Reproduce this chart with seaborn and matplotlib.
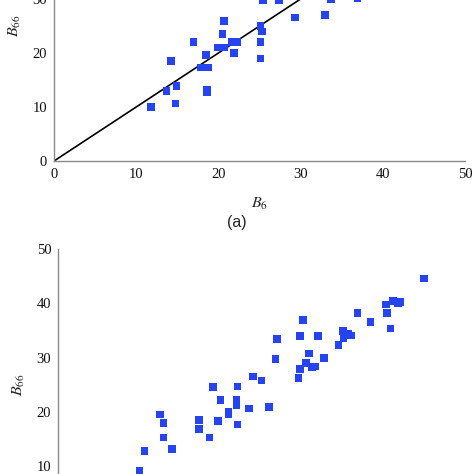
import numpy as np
import pandas as pd
import seaborn as sns
import matplotlib.pyplot as plt

sns.set_style("white")
plt.rcParams['font.family'] = ['Liberation Serif', 'DejaVu Serif']
plt.rcParams['mathtext.fontset'] = 'stix'

# panel (a): B6 vs B66
a_b6 = [11.8, 13.7, 14.2, 14.9, 14.8, 16.95, 17.85, 18.5, 18.8, 18.65, 18.65,
        19.9, 20.3, 20.5, 20.7, 20.7, 21.6, 21.9, 22.3, 25.1, 25.1, 25.1, 25.3,
        25.4, 27.4, 29.3, 33.0, 33.7, 36.9]
a_b66 = [10.0, 13.0, 18.5, 13.9, 10.65, 22.0, 17.3, 19.6, 17.3, 13.1, 12.7,
         21.0, 21.0, 23.5, 25.9, 21.0, 22.0, 20.0, 22.0, 22.0, 18.95, 25.0, 24.0,
         29.7, 29.8, 26.6, 27.0, 29.9, 30.1]

# panel (b)
b_b6 = [9.9, 10.5, 12.4, 12.8, 12.8, 13.8, 17.1, 17.1, 18.4, 18.8, 19.4, 19.75,
        20.7, 20.7, 21.8, 21.7, 21.7, 21.8, 23.2, 23.7, 24.7, 25.6, 26.4, 26.6,
        29.2, 29.4, 29.4, 29.8, 30.1, 30.5, 30.9, 31.2, 31.6, 32.3, 34.1, 34.6,
        34.7, 35.3, 35.6, 36.4, 38.0, 39.9, 40.0, 40.4, 40.7, 41.3, 41.6, 44.5]
b_b66 = [9.1, 12.8, 19.5, 18.0, 15.3, 13.1, 18.5, 16.8, 15.3, 24.6, 18.3, 22.2,
         20.1, 19.6, 24.7, 22.3, 21.2, 17.7, 20.6, 26.5, 25.8, 20.9, 29.8, 33.5,
         26.2, 27.9, 34.0, 37.0, 29.0, 30.8, 28.3, 28.4, 34.0, 30.0, 32.3, 34.9,
         33.65, 34.5, 34.1, 38.3, 36.6, 39.8, 38.3, 35.4, 40.5, 40.0, 40.3, 44.6]

ticks = [0, 10, 20, 30, 40, 50]
blue = '#2643f0'
grey = '#8a8a8a'

fig = plt.figure(figsize=(4.74, 4.74), dpi=100)
W = 474.0
ax1 = fig.add_axes([54 / W, (W - 161) / W, 411 / W, 270 / W])
ax2 = fig.add_axes([58.3 / W, (W - 520.3) / W, 411 / W, 271 / W])

df_a = pd.DataFrame({'B6': a_b6, 'B66': a_b66})
df_b = pd.DataFrame({'B6': b_b6, 'B66': b_b66})

ax1.plot([0, 50], [0, 50], color='black', lw=1.2, zorder=1)
sns.scatterplot(data=df_a, x='B6', y='B66', marker='s', s=30, color=blue,
                edgecolor='none', ax=ax1, zorder=3)
sns.scatterplot(data=df_b, x='B6', y='B66', marker='s', s=30, color=blue,
                edgecolor='none', ax=ax2, zorder=3)

for ax in (ax1, ax2):
    ax.set_xlim(0, 50)
    ax.set_ylim(0, 50)
    ax.set_xticks(ticks)
    ax.set_yticks(ticks)
    sns.despine(ax=ax)
    for s in ('left', 'bottom'):
        ax.spines[s].set_color(grey)
        ax.spines[s].set_linewidth(1.0)
    ax.tick_params(direction='in', length=4, width=1, color=grey,
                   labelsize=10.5, labelcolor='#111111', pad=5)
    ax.set_ylabel(r'$B_{66}$', fontsize=11.5, labelpad=7)

ax1.set_xlabel(r'$B_{6}$', fontsize=11.5, labelpad=11)
ax2.set_xlabel(r'$B_{6}$', fontsize=11.5, labelpad=11)

fig.text(237 / W, (W - 222) / W, '(a)', ha='center', va='center',
         fontsize=11.5, family=['Liberation Sans', 'DejaVu Sans'])

fig.savefig('out.png', dpi=100)
